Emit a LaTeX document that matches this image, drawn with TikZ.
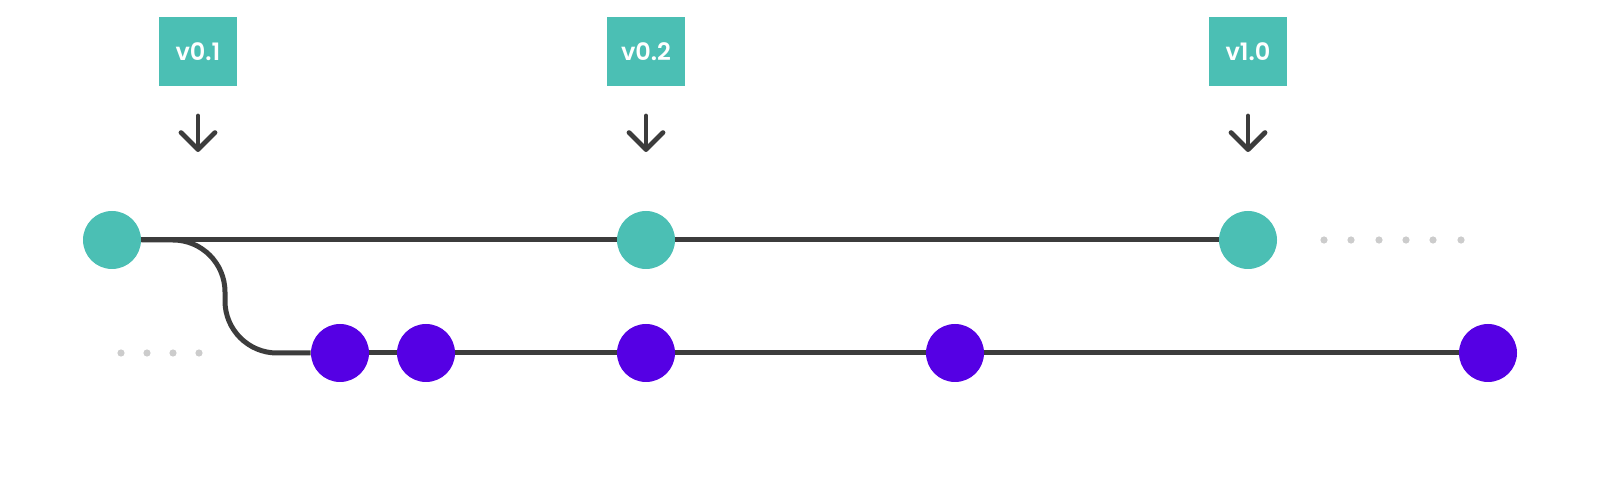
\documentclass[tikz,border=0pt]{standalone}
\usepackage{fontspec}
\setmainfont{Poppins}
\newfontfamily\tagfont{Poppins SemiBold}
\usetikzlibrary{arrows.meta}
\definecolor{tagteal}{HTML}{4BBFB4}
\definecolor{featpurple}{HTML}{5500E4}
\definecolor{linegray}{HTML}{3C3C3C}
\definecolor{dotgray}{HTML}{CCCCCC}
\begin{document}
\begin{tikzpicture}[x=0.5pt, y=-0.5pt]
    \tikzstyle{master} = [circle, fill = tagteal, minimum size = 29pt, inner sep = 0pt]
    \tikzstyle{feature} = [circle, fill = featpurple, minimum size = 29pt, inner sep = 0pt]
    \tikzstyle{tag} = [fill = tagteal, minimum width = 39pt, minimum height = 34.5pt, inner sep = 0pt, text = white, font = \tagfont\fontsize{12pt}{12pt}\selectfont]
    \tikzstyle{branch} = [line width = 2.5pt, draw = linegray]
    \tikzstyle{arrow} = [line width = 2.4pt, draw = linegray, line cap = round, -{Straight Barb[length = 8.5pt, width = 17pt, round]}]
    \useasboundingbox (0,0) rectangle (1600,480);

    \node[master](M1) at (112,240){};
    \node[master](M2) at (646,240){};
    \node[master](M3) at (1248,240){};

    \node[feature](P1) at (340,353){};
    \node[feature](P2) at (426,353){};
    \node[feature](P3) at (646,353){};
    \node[feature](P4) at (955,353){};
    \node[feature](P5) at (1488,353){};

    \node[tag](T1) at (198,52){v0.1};
    \node[tag](T2) at (646,52){v0.2};
    \node[tag](T3) at (1248,52){v1.0};

    \coordinate (a1) at (198,116);
    \coordinate (b1) at (198,152);
    \coordinate (a2) at (646,116);
    \coordinate (b2) at (646,152);
    \coordinate (a3) at (1248,116);
    \coordinate (b3) at (1248,152);

    \draw[arrow] (a1)--(b1);
    \draw[arrow] (a2)--(b2);
    \draw[arrow] (a3)--(b3);

    \draw[branch] (M1)--(M2);
    \draw[branch] (M2)--(M3);
    \draw[branch, rounded corners = 26pt] (M1.east) -- (225,240) -- (225,353) -- (P1.west);
    \draw[branch] (P1)--(P2);
    \draw[branch] (P2)--(P3);
    \draw[branch] (P3)--(P4);
    \draw[branch] (P4)--(P5);

    \foreach \x in {121,147,173,199}
        \fill[dotgray] (\x,353) circle (1.8pt);
    \foreach \x in {1324,1351,1379,1406,1433,1461}
        \fill[dotgray] (\x,240) circle (1.8pt);
\end{tikzpicture}
\end{document}
